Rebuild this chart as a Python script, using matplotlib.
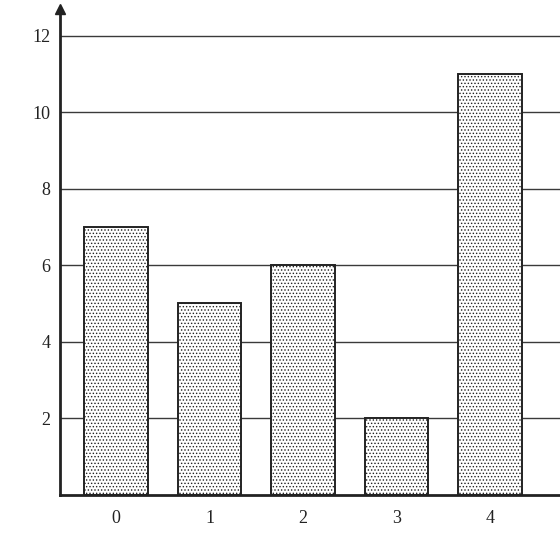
import numpy as np
import matplotlib
matplotlib.use("Agg")
from matplotlib import pyplot as plt

categories = ["0", "1", "2", "3", "4"]
values = [7, 5, 6, 2, 11]
yticks = [2, 4, 6, 8, 10, 12]

plt.rcParams['font.family'] = ['Liberation Serif', 'DejaVu Serif']
plt.rcParams['hatch.color'] = '#b0b0b0'
plt.rcParams['hatch.linewidth'] = 0.6

fig = plt.figure(figsize=(5.6, 5.48), dpi=100)
ax = fig.add_axes([0.107, 0.097, 0.893, 0.887])

x = np.arange(len(categories))
ax.set_axisbelow(True)
for yv in yticks:
    ax.axhline(yv, color='#3a3a3a', lw=1.0, zorder=0)

ax.bar(x, values, width=0.68, color='white', edgecolor='#222222',
       linewidth=1.4, hatch='.....', zorder=2)

ax.set_xlim(-0.6, 4.75)
ax.set_ylim(0, 12.7)
ax.set_xticks(x)
ax.set_xticklabels(categories)
ax.set_yticks(yticks)
ax.tick_params(length=0, labelsize=13, colors='#222222')
ax.tick_params(axis='x', pad=11)
ax.tick_params(axis='y', pad=7)

for s in ['top', 'right']:
    ax.spines[s].set_visible(False)
for s in ['left', 'bottom']:
    ax.spines[s].set_linewidth(2)
    ax.spines[s].set_color('#222222')

ax.plot(0, 1, marker='^', color='#222222', markersize=7,
        transform=ax.transAxes, clip_on=False)

plt.savefig('out.png', dpi=100)
